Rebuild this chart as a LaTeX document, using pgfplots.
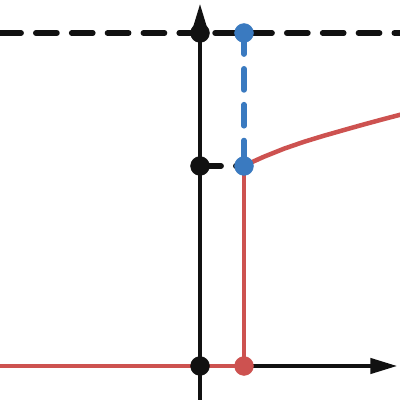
\documentclass[border=0pt]{standalone}
\usepackage{pgfplots}
\pgfplotsset{compat=1.18}
\usetikzlibrary{arrows.meta}
\definecolor{cred}{RGB}{205,82,80}
\definecolor{cblue}{RGB}{58,122,192}
\definecolor{cblack}{RGB}{17,17,17}
\begin{document}
\begin{tikzpicture}
\begin{axis}[
  width=10cm, height=10cm, scale only axis,
  xmin=-200, xmax=200, ymin=-34, ymax=366,
  hide axis, clip=true,
]
\path (rel axis cs:0,0) rectangle (rel axis cs:1,1);
% upper dashed level
\addplot[cblack, line width=4pt, line cap=round, dash pattern=on 15pt off 10.5pt] coordinates {(-200,333) (200,333)};
% axes
\addplot[cblack, line width=2.2pt, -{Stealth[length=21pt,width=12pt,inset=0pt]}] coordinates {(0,-40) (0,362)};
\addplot[cblack, line width=2.2pt, -{Stealth[length=19pt,width=11pt,inset=0pt]}] coordinates {(0,0) (197,0)};
% red function
\addplot[cred, line width=3.2pt] coordinates {(-210,0) (44,0) (44,200)};
\addplot[cred, line width=3.2pt] coordinates {
  (44,200) (54,204.8) (64,209.3) (84,217.3) (104,224.2) (124,230.3)
  (144,236.0) (164,241.6) (184,247.0) (205,252.5)};
% blue jump
\addplot[cblue, line width=4pt, line cap=round, dash pattern=on 15pt off 10.5pt] coordinates {(44,333) (44,200)};
% black short dash
\addplot[cblack, line width=4pt, line cap=round, dash pattern=on 15pt off 10.5pt] coordinates {(0,200) (44,200)};
% markers
\addplot[only marks, mark=*, mark size=6.7pt, cblack, mark options={fill=cblack, draw=none}] coordinates {(0,333) (0,200) (0,0)};
\addplot[only marks, mark=*, mark size=6.7pt, cblue, mark options={fill=cblue, draw=none}] coordinates {(44,333) (44,200)};
\addplot[only marks, mark=*, mark size=6.7pt, cred, mark options={fill=cred, draw=none}] coordinates {(44,0)};
\end{axis}
\end{tikzpicture}
\end{document}
